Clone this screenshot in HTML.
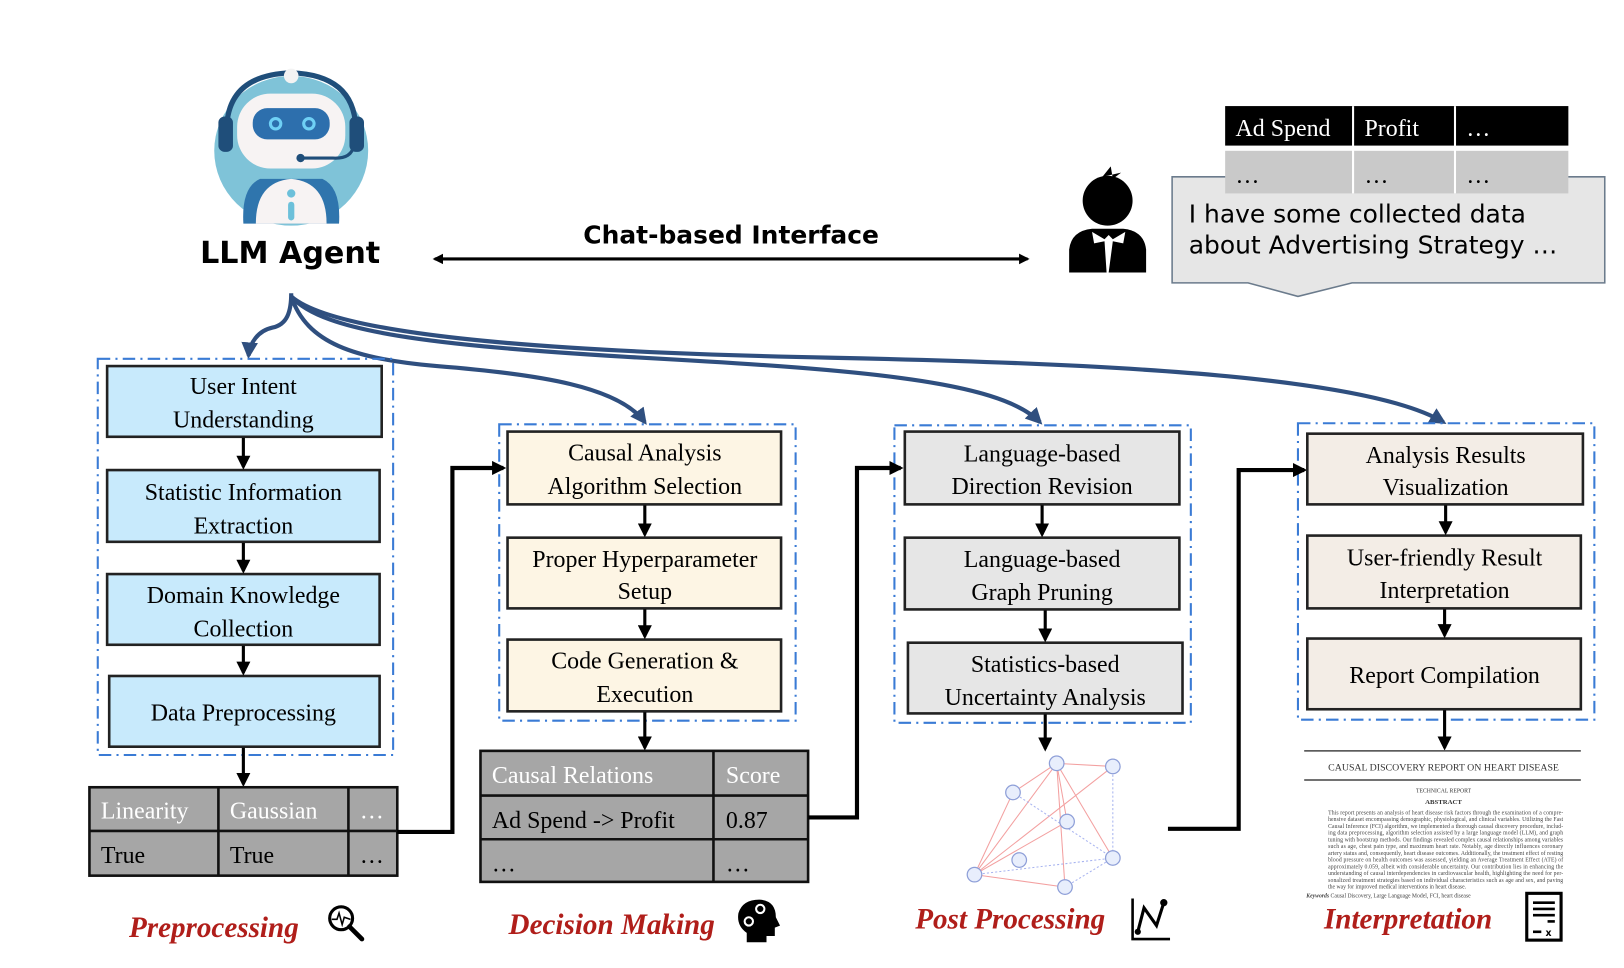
<!DOCTYPE html>
<html><head><meta charset="utf-8"><style>
html,body{margin:0;padding:0;background:#fff;}
svg{display:block;}
.bx{font-family:"Liberation Serif",serif;font-size:23px;fill:#000;text-anchor:middle;}
.tb{font-family:"Liberation Serif",serif;font-size:23px;}
.lab{font-family:"Liberation Serif",serif;font-size:28px;font-style:italic;font-weight:bold;fill:#b01e1a;}
</style></head><body>
<svg width="1624" height="968" viewBox="0 0 1561.5 930.8" preserveAspectRatio="none" xmlns="http://www.w3.org/2000/svg">
<defs>
<marker id="bl" viewBox="0 0 10 10" refX="8" refY="5" markerWidth="4" markerHeight="4" orient="auto"><path d="M0,0 L10,5 L0,10 z" fill="#2f4f7f"/></marker>
<marker id="ka" viewBox="0 0 10 10" refX="8" refY="5" markerWidth="4.5" markerHeight="4.5" orient="auto"><path d="M0,0 L10,5 L0,10 z" fill="#000"/></marker>
<marker id="kc" viewBox="0 0 10 10" refX="8" refY="5" markerWidth="3.4" markerHeight="3.4" orient="auto"><path d="M0,0 L10,5 L0,10 z" fill="#000"/></marker>
<marker id="ks" viewBox="0 0 10 10" refX="2" refY="5" markerWidth="3.4" markerHeight="3.4" orient="auto"><path d="M10,0 L0,5 L10,10 z" fill="#000"/></marker>
</defs>

<!-- Robot -->
<g>
<ellipse cx="280" cy="145" rx="74" ry="72" fill="#7fc3d8"/>
<path d="M218,122 Q220,72 280,70 Q340,72 342,122" fill="none" stroke="#1f4e7a" stroke-width="5"/>
<circle cx="280" cy="73" r="7" fill="#f3f3f3"/>
<rect x="228" y="90" width="104" height="72" rx="32" fill="#f7f3f3"/>
<rect x="243" y="104" width="74" height="30" rx="14" fill="#2d6fad"/>
<circle cx="265" cy="119" r="5" fill="none" stroke="#6fd0f5" stroke-width="3"/>
<circle cx="297" cy="119" r="5" fill="none" stroke="#6fd0f5" stroke-width="3"/>
<rect x="210" y="112" width="14" height="34" rx="6" fill="#1f4e7a"/>
<rect x="336" y="112" width="14" height="34" rx="6" fill="#1f4e7a"/>
<path d="M340,140 Q338,153 320,152 L290,152" fill="none" stroke="#1f4e7a" stroke-width="3"/>
<circle cx="289" cy="152" r="4" fill="#1f4e7a"/>
<path d="M234,215 Q232,180 250,172 L310,172 Q328,180 326,215 z" fill="#2f75ad"/>
<path d="M246,215 Q246,175 280,172 Q314,175 314,215 z" fill="#f7f3f3"/>
<circle cx="280" cy="186" r="4" fill="#6cc0da"/>
<rect x="277" y="194" width="6" height="18" rx="3" fill="#6cc0da"/>
</g>
<text x="279" y="253" font-family="'DejaVu Sans',sans-serif" font-weight="bold" font-size="29" text-anchor="middle">LLM Agent</text>

<!-- Chat arrow -->
<line x1="418" y1="249" x2="988" y2="249" stroke="#000" stroke-width="3" marker-start="url(#ks)" marker-end="url(#kc)"/>
<text x="703" y="234" font-family="'DejaVu Sans',sans-serif" font-weight="bold" font-size="24" text-anchor="middle">Chat-based Interface</text>

<!-- Person -->
<g fill="#000">
<circle cx="1065" cy="193" r="24"/>
<path d="M1060,170 L1068,160 L1070,172 L1078,166 Z"/>
<path d="M1028,262 L1028,240 Q1030,222 1050,220 L1080,220 Q1100,222 1102,240 L1102,262 Z"/>
</g>
<path d="M1050,223 L1062,230 L1066,226 L1070,230 L1082,223 L1080,234 L1070,232 L1066,262 L1064,262 L1062,232 L1052,234 Z" fill="#fff"/>

<!-- Bubble -->
<path d="M1127,170 L1543,170 L1543,272 L1300,272 L1248,285 L1200,272 L1127,272 Z" fill="#e6e6e6" stroke="#6b7b8c" stroke-width="1.5"/>
<rect x="1178" y="102" width="330" height="38" fill="#000"/>
<rect x="1178" y="145" width="330" height="41" fill="#c9c9c9"/>
<line x1="1301" y1="102" x2="1301" y2="186" stroke="#fff" stroke-width="2"/>
<line x1="1399" y1="102" x2="1399" y2="186" stroke="#fff" stroke-width="2"/>
<g class="tb" fill="#fff"><text x="1188" y="131">Ad Spend</text><text x="1312" y="131">Profit</text><text x="1410" y="131">…</text></g>
<g class="tb" fill="#000"><text x="1188" y="176">…</text><text x="1312" y="176">…</text><text x="1410" y="176">…</text></g>
<g font-family="'DejaVu Sans',sans-serif" font-size="24" fill="#000"><text x="1143" y="214">I have some collected data</text><text x="1143" y="244">about Advertising Strategy …</text></g>

<!-- Blue curves -->
<g fill="none" stroke="#2f4f7f" stroke-width="4">
<path d="M280,282 C280,300 276,312 262,315 C248,318 240,330 239,342" marker-end="url(#bl)"/>
<path d="M280,285 C295,330 340,345 420,352 C520,360 595,372 620,406" marker-end="url(#bl)"/>
<path d="M280,285 C310,320 420,332 600,343 C820,355 960,365 1000,406" marker-end="url(#bl)"/>
<path d="M280,285 C320,320 500,338 800,344 C1100,350 1320,365 1388,406" marker-end="url(#bl)"/>
</g>

<!-- Dashed containers -->
<g fill="none" stroke="#3a7bd5" stroke-width="2" stroke-dasharray="12,5,2,5">
<rect x="94" y="345" width="284" height="381"/>
<rect x="480" y="408" width="285" height="285"/>
<rect x="860" y="409" width="285" height="286"/>
<rect x="1248" y="407" width="285" height="285"/>
</g>

<!-- Column 1 -->
<g stroke="#222" stroke-width="2.5" fill="#c8eafc">
<rect x="103" y="352" width="264" height="68"/>
<rect x="103" y="452" width="262" height="69"/>
<rect x="103" y="552" width="262" height="68"/>
<rect x="105" y="650" width="260" height="68"/>
</g>
<g class="bx">
<text x="234" y="379">User Intent</text><text x="234" y="411">Understanding</text>
<text x="234" y="481">Statistic Information</text><text x="234" y="513">Extraction</text>
<text x="234" y="580">Domain Knowledge</text><text x="234" y="612">Collection</text>
<text x="234" y="693">Data Preprocessing</text>
</g>
<g stroke="#000" stroke-width="3" marker-end="url(#ka)">
<line x1="234" y1="421" x2="234" y2="449"/>
<line x1="234" y1="522" x2="234" y2="549"/>
<line x1="234" y1="621" x2="234" y2="647"/>
<line x1="234" y1="719" x2="234" y2="754"/>
</g>
<rect x="86" y="757" width="296" height="85" fill="#a6a6a6" stroke="#111" stroke-width="2.5"/>
<g stroke="#111" stroke-width="2.5"><line x1="86" y1="799" x2="382" y2="799"/><line x1="210" y1="757" x2="210" y2="842"/><line x1="335" y1="757" x2="335" y2="842"/></g>
<g class="tb" fill="#fff"><text x="97" y="787">Linearity</text><text x="221" y="787">Gaussian</text><text x="346" y="787">…</text></g>
<g class="tb" fill="#000"><text x="97" y="830">True</text><text x="221" y="830">True</text><text x="346" y="830">…</text></g>
<path d="M382,800 L435,800 L435,450 L484,450" fill="none" stroke="#000" stroke-width="4" marker-end="url(#kc)"/>

<!-- Column 2 -->
<g stroke="#222" stroke-width="2.5" fill="#fdf5e4">
<rect x="488" y="415" width="263" height="70"/>
<rect x="488" y="517" width="263" height="68"/>
<rect x="488" y="615" width="263" height="69"/>
</g>
<g class="bx">
<text x="620" y="443">Causal Analysis</text><text x="620" y="475">Algorithm Selection</text>
<text x="620" y="545">Proper Hyperparameter</text><text x="620" y="576">Setup</text>
<text x="620" y="643">Code Generation &amp;</text><text x="620" y="675">Execution</text>
</g>
<g stroke="#000" stroke-width="3" marker-end="url(#ka)">
<line x1="620" y1="486" x2="620" y2="514"/>
<line x1="620" y1="586" x2="620" y2="612"/>
<line x1="620" y1="685" x2="620" y2="719"/>
</g>
<rect x="462" y="722" width="315" height="126" fill="#a6a6a6" stroke="#111" stroke-width="2.5"/>
<g stroke="#111" stroke-width="2.5"><line x1="462" y1="765" x2="777" y2="765"/><line x1="462" y1="807" x2="777" y2="807"/><line x1="686" y1="722" x2="686" y2="848"/></g>
<g class="tb" fill="#fff"><text x="473" y="753">Causal Relations</text><text x="698" y="753">Score</text></g>
<g class="tb" fill="#000"><text x="473" y="796">Ad Spend -&gt; Profit</text><text x="698" y="796">0.87</text><text x="473" y="838">…</text><text x="698" y="838">…</text></g>
<path d="M777,786 L824,786 L824,450 L866,450" fill="none" stroke="#000" stroke-width="4" marker-end="url(#kc)"/>

<!-- Column 3 -->
<g stroke="#222" stroke-width="2.5" fill="#e6e6e6">
<rect x="870" y="415" width="264" height="70"/>
<rect x="870" y="517" width="264" height="69"/>
<rect x="873" y="618" width="264" height="68"/>
</g>
<g class="bx">
<text x="1002" y="444">Language-based</text><text x="1002" y="475">Direction Revision</text>
<text x="1002" y="545">Language-based</text><text x="1002" y="577">Graph Pruning</text>
<text x="1005" y="646">Statistics-based</text><text x="1005" y="678">Uncertainty Analysis</text>
</g>
<g stroke="#000" stroke-width="3" marker-end="url(#ka)">
<line x1="1002" y1="486" x2="1002" y2="514"/>
<line x1="1005" y1="587" x2="1005" y2="615"/>
<line x1="1005" y1="687" x2="1005" y2="720"/>
</g>
<!-- graph -->
<g stroke="#f3a0a0" stroke-width="1">
<line x1="1016" y1="734" x2="1070" y2="737"/><line x1="1016" y1="734" x2="974" y2="762"/>
<line x1="1016" y1="734" x2="937" y2="841"/><line x1="1016" y1="734" x2="1026" y2="790"/>
<line x1="1016" y1="734" x2="1024" y2="853"/><line x1="1016" y1="734" x2="1070" y2="825"/>
<line x1="974" y1="762" x2="937" y2="841"/><line x1="1070" y1="737" x2="937" y2="841"/>
<line x1="1026" y1="790" x2="937" y2="841"/><line x1="937" y1="841" x2="1024" y2="853"/>
</g>
<g stroke="#a8b4f0" stroke-width="1" stroke-dasharray="2,2">
<line x1="1070" y1="737" x2="1070" y2="825"/><line x1="974" y1="762" x2="1070" y2="825"/>
<line x1="937" y1="841" x2="1070" y2="825"/><line x1="1024" y1="853" x2="1070" y2="825"/>
</g>
<g fill="#e8eefc" stroke="#8e9fd8" stroke-width="1.2">
<circle cx="1016" cy="734" r="7"/><circle cx="1070" cy="737" r="7"/><circle cx="974" cy="762" r="7"/>
<circle cx="1026" cy="790" r="7"/><circle cx="980" cy="827" r="7"/><circle cx="1070" cy="825" r="7"/>
<circle cx="937" cy="841" r="7"/><circle cx="1024" cy="853" r="7"/>
</g>
<path d="M1123,797 L1191,797 L1191,452 L1254,452" fill="none" stroke="#000" stroke-width="4" marker-end="url(#kc)"/>

<!-- Column 4 -->
<g stroke="#222" stroke-width="2.5" fill="#f3ede6">
<rect x="1257" y="417" width="265" height="68"/>
<rect x="1257" y="515" width="263" height="70"/>
<rect x="1257" y="614" width="263" height="68"/>
</g>
<g class="bx">
<text x="1390" y="445">Analysis Results</text><text x="1390" y="476">Visualization</text>
<text x="1389" y="544">User-friendly Result</text><text x="1389" y="575">Interpretation</text>
<text x="1389" y="657">Report Compilation</text>
</g>
<g stroke="#000" stroke-width="3" marker-end="url(#ka)">
<line x1="1390" y1="486" x2="1390" y2="512"/>
<line x1="1389" y1="586" x2="1389" y2="611"/>
<line x1="1389" y1="683" x2="1389" y2="719"/>
</g>
<!-- report -->
<line x1="1254" y1="722" x2="1520" y2="722" stroke="#444" stroke-width="1.5"/>
<line x1="1254" y1="750" x2="1520" y2="750" stroke="#444" stroke-width="1.5"/>
<text x="1388" y="741" font-family="'Liberation Serif',serif" font-size="9.5" text-anchor="middle" fill="#333">CAUSAL DISCOVERY REPORT ON HEART DISEASE</text>
<text x="1388" y="762" font-family="'Liberation Serif',serif" font-size="5.5" text-anchor="middle" fill="#333">TECHNICAL REPORT</text>
<text x="1388" y="773" font-family="'Liberation Serif',serif" font-size="6.5" font-weight="bold" text-anchor="middle" fill="#333">ABSTRACT</text>
<g font-family="'Liberation Serif',serif" font-size="5.5" fill="#444">
<text x="1277" y="783" textLength="226">This report presents an analysis of heart disease risk factors through the examination of a compre-</text>
<text x="1277" y="789.5" textLength="226">hensive dataset encompassing demographic, physiological, and clinical variables. Utilizing the Fast</text>
<text x="1277" y="796" textLength="226">Causal Inference (FCI) algorithm, we implemented a thorough causal discovery procedure, includ-</text>
<text x="1277" y="802.5" textLength="226">ing data preprocessing, algorithm selection assisted by a large language model (LLM), and graph</text>
<text x="1277" y="809" textLength="226">tuning with bootstrap methods. Our findings revealed complex causal relationships among variables</text>
<text x="1277" y="815.5" textLength="226">such as age, chest pain type, and maximum heart rate. Notably, age directly influences coronary</text>
<text x="1277" y="822" textLength="226">artery status and, consequently, heart disease outcomes. Additionally, the treatment effect of resting</text>
<text x="1277" y="828.5" textLength="226">blood pressure on health outcomes was assessed, yielding an Average Treatment Effect (ATE) of</text>
<text x="1277" y="835" textLength="226">approximately 0.059, albeit with considerable uncertainty. Our contribution lies in enhancing the</text>
<text x="1277" y="841.5" textLength="226">understanding of causal interdependencies in cardiovascular health, highlighting the need for per-</text>
<text x="1277" y="848" textLength="226">sonalized treatment strategies based on individual characteristics such as age and sex, and paving</text>
<text x="1277" y="854.5">the way for improved medical interventions in heart disease.</text>
<text x="1256" y="863"><tspan font-style="italic" font-weight="bold">Keywords</tspan> Causal Discovery, Large Language Model, FCI, heart disease</text>
</g>

<!-- Labels -->
<text class="lab" x="124" y="901">Preprocessing</text>
<text class="lab" x="489" y="898">Decision Making</text>
<text class="lab" x="880" y="893">Post Processing</text>
<text class="lab" x="1273" y="893">Interpretation</text>

<!-- icons -->
<circle cx="328" cy="883" r="11" fill="none" stroke="#000" stroke-width="3"/>
<line x1="336" y1="891" x2="348" y2="903" stroke="#000" stroke-width="4.5" stroke-linecap="round"/>
<path d="M319,884 L324,884 L326,878 L329,889 L331,882 L337,884" fill="none" stroke="#000" stroke-width="1.5"/>
<path d="M718,906 L718,897 Q708,890 710,878 Q714,865 730,865 Q746,866 746,882 L750,890 L745,892 L745,900 L737,900 L737,906 Z" fill="#000"/>
<circle cx="731" cy="874" r="4" fill="none" stroke="#fff" stroke-width="2"/>
<circle cx="720" cy="886" r="4" fill="none" stroke="#fff" stroke-width="2"/>
<path d="M1089,864 L1089,903 L1125,903" fill="none" stroke="#000" stroke-width="2.5"/>
<path d="M1094,896 L1100,873 L1112,890 L1119,868" fill="none" stroke="#000" stroke-width="3"/>
<circle cx="1094" cy="896" r="3" fill="#000"/><circle cx="1119" cy="868" r="3.5" fill="#000"/>
<rect x="1468" y="859" width="33" height="45" fill="#fff" stroke="#000" stroke-width="3"/>
<g stroke="#000" stroke-width="2.5"><line x1="1474" y1="868" x2="1495" y2="868"/><line x1="1474" y1="874" x2="1495" y2="874"/><line x1="1474" y1="880" x2="1495" y2="880"/><line x1="1488" y1="886" x2="1495" y2="886"/><line x1="1474" y1="896" x2="1482" y2="896"/></g>
<text x="1486" y="900" font-family="'DejaVu Sans',sans-serif" font-size="9" font-weight="bold">x</text>
</svg>
</body></html>
